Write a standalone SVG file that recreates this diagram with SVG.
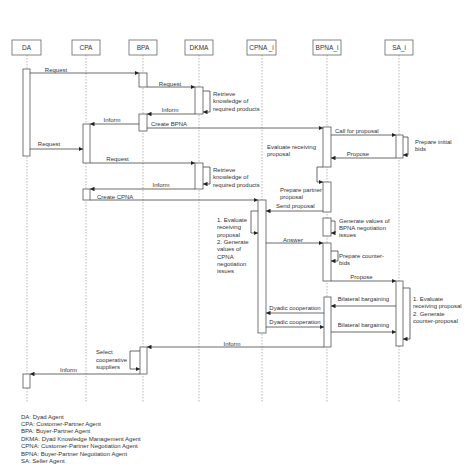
<svg xmlns="http://www.w3.org/2000/svg" width="474" height="474" viewBox="0 0 474 474">
<style>
text{font-family:"Liberation Sans",Arial,sans-serif;font-size:6px;fill:#333}
.hd{text-anchor:middle;font-size:6.5px}
.m{text-anchor:middle}
.box{fill:#fff;stroke:#666;stroke-width:0.8}
.life{stroke:#999;stroke-width:0.7;stroke-dasharray:1.5,1.5;fill:none}
.bar{fill:#fff;stroke:#555;stroke-width:0.8}
.msg{stroke:#444;stroke-width:0.8;fill:none;marker-end:url(#ah)}
</style>
<defs>
<marker id="ah" viewBox="0 0 6 6" refX="6" refY="3" markerWidth="4.5" markerHeight="4.5" markerUnits="userSpaceOnUse" orient="auto">
<path d="M0,0 L6,3 L0,6 Z" fill="#222"/>
</marker>
</defs>
<rect width="474" height="474" fill="#fff"/>

<g id="lifelines">
<line class="life" x1="27" y1="55" x2="27" y2="403"/>
<line class="life" x1="86" y1="55" x2="86" y2="403"/>
<line class="life" x1="143" y1="55" x2="143" y2="403"/>
<line class="life" x1="199" y1="55" x2="199" y2="403"/>
<line class="life" x1="262" y1="55" x2="262" y2="403"/>
<line class="life" x1="327" y1="55" x2="327" y2="403"/>
<line class="life" x1="399" y1="55" x2="399" y2="403"/>
</g>

<g id="DA">
<rect class="box" x="12" y="40" width="29" height="15"/>
<text class="hd" x="26.5" y="49.8">DA</text>
<rect class="bar" x="23" y="69" width="7" height="87"/>
<rect class="bar" x="23" y="374" width="7" height="14"/>
</g>
<g id="CPA">
<rect class="box" x="72" y="40" width="28" height="15"/>
<text class="hd" x="86" y="49.8">CPA</text>
<rect class="bar" x="83" y="124" width="7" height="39"/>
<rect class="bar" x="83" y="189" width="7" height="11"/>
</g>
<g id="BPA">
<rect class="box" x="129" y="40" width="28" height="15"/>
<text class="hd" x="143" y="49.8">BPA</text>
<rect class="bar" x="139" y="73" width="8" height="14"/>
<rect class="bar" x="139" y="114" width="8" height="17"/>
<rect class="bar" x="140" y="347" width="7" height="27"/>
</g>
<g id="DKMA">
<rect class="box" x="185" y="40" width="28" height="15"/>
<text class="hd" x="199" y="49.8">DKMA</text>
<rect class="bar" x="195" y="87" width="8" height="27"/>
<rect class="bar" x="195" y="163" width="8" height="26"/>
</g>
<g id="CPNA_i">
<rect class="box" x="247" y="40" width="29" height="15"/>
<text class="hd" x="261.5" y="49.8">CPNA _i</text>
<rect class="bar" x="258" y="200" width="8" height="133"/>
</g>
<g id="BPNA_i">
<rect class="box" x="313" y="40" width="28" height="15"/>
<text class="hd" x="327" y="49.8">BPNA_i</text>
<rect class="bar" x="323" y="127" width="8" height="40"/>
<rect class="bar" x="323" y="182" width="8" height="30"/>
<rect class="bar" x="323" y="218" width="8" height="18"/>
<rect class="bar" x="323" y="243" width="8" height="38"/>
<rect class="bar" x="324" y="297" width="7" height="50"/>
</g>
<g id="SA_i">
<rect class="box" x="385" y="40" width="28" height="15"/>
<text class="hd" x="399" y="49.8">SA_i</text>
<rect class="bar" x="396" y="135" width="7" height="23"/>
<rect class="bar" x="396" y="281" width="7" height="65"/>
</g>

<g id="connectors">
<line class="msg" x1="30" y1="73" x2="139" y2="73"/>
<line class="msg" x1="147" y1="87" x2="195" y2="87"/>
<path class="msg" d="M203,91 H210 V112 H203"/>
<line class="msg" x1="195" y1="114" x2="147" y2="114"/>
<line class="msg" x1="139" y1="124" x2="90" y2="124"/>
<line class="msg" x1="147" y1="128" x2="323" y2="128"/>
<line class="msg" x1="331" y1="135" x2="396" y2="135"/>
<path class="msg" d="M403,137 H408 V155 H403"/>
<line class="msg" x1="396" y1="158" x2="331" y2="158"/>
<line class="msg" x1="30" y1="149" x2="83" y2="149"/>
<line class="msg" x1="90" y1="163" x2="195" y2="163"/>
<path class="msg" d="M203,167 H210 V184 H203"/>
<path class="msg" d="M323,167 H317 V182 H323"/>
<line class="msg" x1="195" y1="189" x2="90" y2="189"/>
<line class="msg" x1="90" y1="200" x2="258" y2="200"/>
<line class="msg" x1="323" y1="211" x2="266" y2="211"/>
<path class="msg" d="M258,211 H251 V233 H258"/>
<path class="msg" d="M331,221 H335 V233 H331"/>
<line class="msg" x1="266" y1="243" x2="323" y2="243"/>
<path class="msg" d="M331,251 H338 V261 H331"/>
<line class="msg" x1="331" y1="281" x2="396" y2="281"/>
<path class="msg" d="M403,288 H410 V339 H403"/>
<line class="msg" x1="396" y1="306" x2="331" y2="306"/>
<line class="msg" x1="324" y1="313" x2="266" y2="313"/>
<line class="msg" x1="266" y1="327" x2="324" y2="327"/>
<line class="msg" x1="331" y1="332" x2="396" y2="332"/>
<line class="msg" x1="324" y1="347" x2="147" y2="347"/>
<path class="msg" d="M140,351 H130 V369 H140"/>
<line class="msg" x1="140" y1="374" x2="30" y2="374"/>
</g>

<g id="labels">
<text class="m" x="56" y="71.5">Request</text>
<text class="m" x="170" y="85.5">Request</text>
<text x="213" y="95.5">Retrieve</text>
<text x="213" y="103">knowledge of</text>
<text x="213" y="110.5">required products</text>
<text class="m" x="170" y="112">Inform</text>
<text class="m" x="112" y="121.5">Inform</text>
<text x="151" y="125.5">Create BPNA</text>
<text x="335" y="132.5">Call for proposal</text>
<text x="415" y="143.5">Prepare initial</text>
<text x="415" y="151">bids</text>
<text x="267" y="148.5">Evaluate receiving</text>
<text x="267" y="156">proposal</text>
<text class="m" x="358" y="155.5">Propose</text>
<text class="m" x="49" y="145.5">Request</text>
<text class="m" x="117.5" y="161">Request</text>
<text x="213" y="171.5">Retrieve</text>
<text x="213" y="179">knowledge of</text>
<text x="213" y="186.5">required products</text>
<text class="m" x="161" y="187">Inform</text>
<text x="97" y="198.5">Create CPNA</text>
<text x="280" y="191.5">Prepare partner</text>
<text x="280" y="199">proposal</text>
<text x="276" y="208">Send proposal</text>
<text x="217" y="222">1. Evaluate</text>
<text x="217" y="229.3">receiving</text>
<text x="217" y="236.6">proposal</text>
<text x="217" y="243.9">2. Generate</text>
<text x="217" y="251.2">values of</text>
<text x="217" y="258.5">CPNA</text>
<text x="217" y="265.8">negotiation</text>
<text x="217" y="273.1">issues</text>
<text x="339" y="222.5">Generate values of</text>
<text x="339" y="229.5">BPNA negotiation</text>
<text x="339" y="236.5">issues</text>
<text class="m" x="293" y="242">Answer</text>
<text x="339" y="257.5">Prepare counter-</text>
<text x="339" y="265">bids</text>
<text class="m" x="361.5" y="278.5">Propose</text>
<text x="413" y="300.5">1. Evaluate</text>
<text x="413" y="308">receiving proposal</text>
<text x="413" y="315.5">2. Generate</text>
<text x="413" y="323">counter-proposal</text>
<text class="m" x="363.5" y="300.5">Bilateral bargaining</text>
<text class="m" x="295" y="309.5">Dyadic cooperation</text>
<text class="m" x="295" y="323.5">Dyadic cooperation</text>
<text class="m" x="363.5" y="326.5">Bilateral bargaining</text>
<text class="m" x="232" y="345.5">Inform</text>
<text x="96" y="354">Select</text>
<text x="96" y="361.5">cooperative</text>
<text x="96" y="369">suppliers</text>
<text class="m" x="68.5" y="371.5">Inform</text>
</g>

<g id="legend">
<text x="21" y="418.5">DA: Dyad Agent</text>
<text x="21" y="426">CPA: Customer-Partner Agent</text>
<text x="21" y="433.3">BPA: Buyer-Partner Agent</text>
<text x="21" y="440.7">DKMA: Dyad Knowledge Management Agent</text>
<text x="21" y="448">CPNA: Customer-Partner Negotiation Agent</text>
<text x="21" y="455.5">BPNA: Buyer-Partner Negotiation Agent</text>
<text x="21" y="463">SA: Seller Agent</text>
</g>
</svg>
